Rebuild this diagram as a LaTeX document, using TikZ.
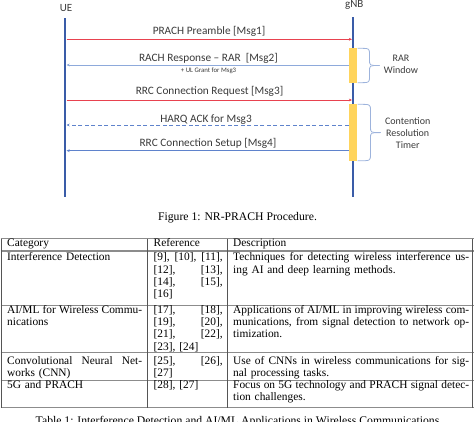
\documentclass[tikz,border=0pt]{standalone}
\usepackage{fontspec}
\setmainfont{Liberation Serif}
\newfontfamily\diagfont[Ligatures=TeX]{Carlito}
\usetikzlibrary{arrows.meta}
\definecolor{lifeblue}{HTML}{3A5CA8}
\definecolor{msgred}{HTML}{E8424F}
\definecolor{lightblue}{HTML}{8EAADB}
\definecolor{midblue}{HTML}{5F83CC}
\definecolor{boxyellow}{HTML}{FFD45C}
\definecolor{bracecol}{HTML}{9DB3DC}
\definecolor{dtext}{HTML}{3A3A3A}
\definecolor{hrulecol}{HTML}{8C8C8C}
\definecolor{vrulecol}{HTML}{555555}
\newcommand\jline[1]{{\spaceskip=.25em plus .6em minus .09em\relax
  \sbox0{#1}\ifdim\wd0>\linewidth
    \sbox0{\makebox[\linewidth][s]{#1}}%
    \ifdim\wd0>\linewidth\resizebox{\linewidth}{\height}{#1}\else\usebox0\fi
  \else\makebox[\linewidth][s]{#1}\fi}\\\relax}
\begin{document}
\begin{tikzpicture}[x=1pt,y=-1pt,
  lifeline/.style={draw=lifeblue,line width=2.3pt},
  actbox/.style={fill=boxyellow,draw=none,inner sep=0pt,minimum width=8.5pt},
  msg/.style={line width=0.8pt,-{Stealth[length=3.2pt,width=2.8pt]}},
  lbl/.style={font=\diagfont\fontsize{11.3}{13}\selectfont,text=dtext,inner sep=0pt,anchor=base},
  sublbl/.style={font=\diagfont\fontsize{6.8}{8}\selectfont,text=dtext,inner sep=0pt,anchor=base},
  actor/.style={font=\diagfont\fontsize{11}{13}\selectfont,text=dtext,inner sep=0pt,anchor=base},
  sidelbl/.style={font=\diagfont\fontsize{10}{12.4}\selectfont,text=dtext,inner sep=0pt,anchor=base,align=center},
  bracestyle/.style={draw=bracecol,line width=0.8pt},
  hline/.style={draw=hrulecol,line width=1.3pt},
  vline/.style={draw=vrulecol,line width=0.8pt},
  cell/.style={font=\fontsize{11.4}{12.3}\selectfont,inner sep=0pt,anchor=base west,align=left},
  capt/.style={font=\fontsize{11.7}{13}\selectfont,inner sep=0pt,anchor=base}
]
\useasboundingbox (0,0) rectangle (474,422);

% actors
\node[actor] (ue) at (66,12) {UE};
\node[actor] (gnb) at (354.3,7.3) {gNB};

% lifelines
\coordinate (ueTop) at (65,18.3);
\coordinate (ueBot) at (65,197);
\coordinate (gnbTop) at (352.7,17.3);
\coordinate (gnbBot) at (352.7,196.7);
\draw[lifeline] (ueTop) -- (ueBot);
\draw[lifeline] (gnbTop) -- (gnbBot);

% activation boxes
\node[actbox,minimum height=34.4pt] (rarbox) at (352.75,65.5) {};
\node[actbox,minimum height=56.5pt] (crbox) at (352.75,132.5) {};

% message end points
\coordinate (u1) at (66.5,39.3);  \coordinate (g1) at (352,39.3);
\coordinate (u2) at (66.5,65);    \coordinate (g2) at (348.5,65);
\coordinate (u3) at (66.5,100);   \coordinate (g3) at (352,100);
\coordinate (u4) at (66.5,125);   \coordinate (g4) at (348.5,125);
\coordinate (u5) at (66.5,150.7); \coordinate (g5) at (348.5,150.7);

\draw[msg,msgred] (u1) -- (g1);
\draw[msg,lightblue] (g2) -- (u2);
\draw[msg,msgred] (u3) -- (g3);
\draw[msg,midblue,dashed,dash pattern=on 4pt off 2.5pt] (g4) -- (u4);
\draw[msg,midblue] (g5) -- (u5);

% message labels
\node[lbl] (m1) at (209,35) {PRACH Preamble [Msg1]};
\node[lbl] (m2) at (208.5,61.7) {RACH Response – RAR\ \ [Msg2]};
\node[sublbl] (m2b) at (208.5,72.3) {+ UL Grant for Msg3};
\node[lbl] (m3) at (209.5,95) {RRC Connection Request [Msg3]};
\node[lbl] (m4) at (206,122.7) {HARQ ACK for Msg3};
\node[lbl] (m5) at (208,146.7) {RRC Connection Setup [Msg4]};

% braces
\draw[bracestyle] (357.5,48.3) .. controls (369.5,48.3) .. (369.5,54) -- (369.5,60) .. controls (369.5,65.5) .. (379.5,65.5);
\draw[bracestyle] (379.5,65.5) .. controls (369.5,65.5) .. (369.5,71) -- (369.5,77) .. controls (369.5,82.7) .. (357.5,82.7);
\draw[bracestyle] (357.5,104.3) .. controls (370.5,104.3) .. (370.5,110) -- (370.5,127) .. controls (370.5,132.6) .. (380.5,132.6);
\draw[bracestyle] (380.5,132.6) .. controls (370.5,132.6) .. (370.5,138) -- (370.5,155) .. controls (370.5,160.8) .. (357.5,160.8);

\node[sidelbl] (rarw) at (401,74) {RAR\\Window};
\node[sidelbl] (crt) at (407.7,149) {Contention\\Resolution\\Timer};

% figure caption
\node[capt] (fig) at (237.5,221) {Figure 1: NR-PRACH Procedure.};

% table rules
\draw[hline] (0.5,238.7) -- (473.5,238.7);
\draw[hline] (0.5,251) -- (473.5,251);
\draw[hline] (0.5,305.5) -- (473.5,305.5);
\draw[hline] (0.5,352.3) -- (473.5,352.3);
\draw[hline] (0.5,380.3) -- (473.5,380.3);
\draw[hline] (0.5,407.7) -- (473.5,407.7);
\draw[vline] (1.8,238.7) -- (1.8,407.7);
\draw[vline] (147,238.7) -- (147,407.7);
\draw[vline] (227,238.7) -- (227,407.7);
\draw[vline] (472.3,238.7) -- (472.3,407.7);

% header
\node[cell,text width=135pt] (h1) at (7,247) {Category};
\node[cell,text width=69pt] (h2) at (153.5,247) {Reference};
\node[cell,text width=236pt] (h3) at (233,247) {Description};

% row 1
\node[cell,text width=135pt] (r1c1) at (7,261) {Interference Detection};
\node[cell,text width=69pt] (r1c2) at (153.5,261) {\jline{[9], [10], [11],}\jline{[12], [13],}\jline{[14], [15],}[16]};
\node[cell,text width=236pt] (r1c3) at (233,261) {\jline{Techniques for detecting wireless interference us-}ing AI and deep learning methods.};

% row 2
\node[cell,text width=135pt] (r2c1) at (7,313.3) {\jline{AI/ML for Wireless Commu-}nications};
\node[cell,text width=69pt] (r2c2) at (153.5,313.3) {\jline{[17], [18],}\jline{[19], [20],}\jline{[21], [22],}[23], [24]};
\node[cell,text width=236pt] (r2c3) at (233,313.3) {\jline{Applications of AI/ML in improving wireless com-}\jline{munications, from signal detection to network op-}timization.};

% row 3
\node[cell,text width=135pt] (r3c1) at (7,364) {\jline{Convolutional Neural Net-}works (CNN)};
\node[cell,text width=69pt] (r3c2) at (153.5,364) {\jline{[25], [26],}[27]};
\node[cell,text width=236pt] (r3c3) at (233,364) {\jline{Use of CNNs in wireless communications for sig-}nal processing tasks.};

% row 4
\node[cell,text width=135pt] (r4c1) at (7,388.5) {5G and PRACH};
\node[cell,text width=69pt] (r4c2) at (153.5,388.5) {[28], [27]};
\node[cell,text width=236pt] (r4c3) at (233,388.5) {\jline{Focus on 5G technology and PRACH signal detec-}tion challenges.};

% table caption (cut by the page edge)
\node[capt] (tab) at (237.5,424.5) {Table 1: Interference Detection and AI/ML Applications in Wireless Communications};
\end{tikzpicture}
\end{document}
